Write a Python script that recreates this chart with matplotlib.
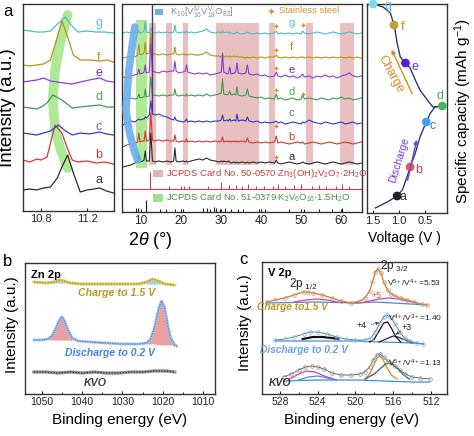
import numpy as np
import matplotlib
matplotlib.use('Agg')
import matplotlib.pyplot as plt
from matplotlib.patches import Rectangle

plt.rcParams['font.family'] = ['Liberation Sans', 'DejaVu Sans']
plt.rcParams['mathtext.fontset'] = 'custom'
plt.rcParams['mathtext.rm'] = 'Liberation Sans'
plt.rcParams['mathtext.it'] = 'Liberation Sans:italic'
plt.rcParams['mathtext.bf'] = 'Liberation Sans:bold'

# ---------------- DATA ----------------
states = ['a', 'b', 'c', 'd', 'e', 'f', 'g']
state_colors = ['#2b2b2b', '#d9362f', '#2a3fc4', '#3f9a55', '#8a3fd8', '#b9901a', '#4fbcc4']
label_colors = ['#333333', '#d9362f', '#3a6fd8', '#4aa860', '#6a2ae0', '#b9901a', '#5cc4cc']

# zoomed XRD (2theta 10.6-11.4)
zoom_x = {
    'a': [10.64, 10.70, 10.76, 10.82, 10.88, 10.94, 10.98, 11.03, 11.08, 11.14, 11.20, 11.26, 11.31, 11.37, 11.43],
    'b': [10.64, 10.70, 10.76, 10.80, 10.85, 10.92, 10.98, 11.03, 11.07, 11.12, 11.20, 11.28, 11.35, 11.43],
    'c': [10.64, 10.70, 10.76, 10.82, 10.88, 10.95, 11.00, 11.07, 11.14, 11.22, 11.31, 11.37, 11.43],
    'd': [10.64, 10.70, 10.76, 10.80, 10.85, 10.90, 10.98, 11.07, 11.14, 11.22, 11.31, 11.37, 11.43],
    'e': [10.64, 10.70, 10.76, 10.82, 10.88, 10.94, 11.00, 11.07, 11.14, 11.22, 11.31, 11.37, 11.43],
    'f': [10.64, 10.70, 10.76, 10.82, 10.88, 10.93, 10.98, 11.03, 11.08, 11.14, 11.22, 11.31, 11.37, 11.43],
    'g': [10.64, 10.70, 10.76, 10.82, 10.88, 10.95, 11.01, 11.06, 11.12, 11.20, 11.28, 11.35, 11.43],
}
zoom_y = {
    'a': [21, 22, 21, 23, 24, 33, 44, 56, 38, 19, 21, 22, 23, 20, 18],
    'b': [51, 49, 52, 51, 54, 86, 78, 62, 51, 49, 50, 48, 49, 47],
    'c': [78, 77, 76, 78, 80, 86, 81, 76, 78, 77, 79, 77, 76],
    'd': [104, 103, 102, 104, 108, 116, 111, 103, 104, 105, 106, 104, 104],
    'e': [129, 130, 131, 133, 130, 129, 128, 127, 129, 131, 133, 130, 129],
    'f': [146, 145, 146, 147, 151, 170, 190, 174, 156, 151, 151, 150, 151, 149],
    'g': [181, 180, 179, 179, 180, 188, 194, 186, 179, 180, 179, 179, 178],
}
zoom_guide_x = [11.03, 10.97, 10.92, 10.90, 10.92, 10.97, 11.03]
zoom_guide_y = [196, 171, 141, 111, 81, 61, 43]

# full XRD
xrd_2theta = [5.5, 6.5, 7.5, 8.5, 9.2, 9.5, 9.8, 10.5, 10.8, 11.1,
              11.4, 12.1, 12.5, 12.9, 13.5, 14.5, 15.5, 16.5, 17.5, 18.2,
              18.5, 18.8, 19.5, 20.5, 21.1, 21.4, 21.7, 22.5, 23.5, 24.5,
              25.5, 26.4, 27.3, 28.5, 29.5, 30.1, 30.4, 30.7, 31.5, 31.9,
              32.2, 32.5, 33.3, 33.7, 34.0, 34.3, 35.2, 36.2, 36.6, 37.0,
              38.0, 39.0, 40.0, 41.0, 42.0, 43.4, 43.8, 44.2, 45.0, 46.0,
              47.0, 48.0, 49.0, 50.0, 50.4, 50.8, 52.0, 53.0, 54.0, 55.0,
              56.0, 57.0, 58.0, 59.0, 60.0, 61.0, 62.0, 63.0, 64.0, 65.0]
xrd_offset = {'a': 49, 'b': 69, 'c': 89, 'd': 113, 'e': 135, 'f': 155, 'g': 179}
xrd_delta = {
    'g': [0, 1, 0, 1, 0, 2, 0, 1, 2, 11,
          1, 0, 5, 1, 0, 1, 0, 1, 0, 1,
          8, 1, 0, 1, 0, 2, 0, 1, 0, 1,
          2, 4, 1, 0, 1, 0, 2, 0, 1, 0,
          1, 0, -1, 0, 1, 0, -1, 0, 1, 0,
          -1, 0, -1, 0, -1, 0, 2, -1, 0, -1,
          0, -1, 0, -1, 2, 0, -1, 0, 1, 0,
          -1, 0, 1, 0, -1, 0, 1, 0, -1, 0],
    'f': [-1, 0, 1, 0, 2, 12, 2, 3, 4, 15,
          3, 4, 24, 4, 3, 2, 3, 2, 3, 3,
          10, 3, 2, 3, 2, 3, 2, 3, 2, 2,
          3, 5, 2, 1, 1, 0, 2, 0, 1, 0,
          1, 0, 1, 0, 1, 0, 0, -1, 0, -1,
          0, -1, 0, -1, 0, 0, 2, 0, -1, 0,
          -1, 0, -1, 0, 0, -1, 0, -1, 0, -1,
          0, -1, 0, -1, 0, -1, 0, -1, 0, -1],
    'e': [0, -1, 1, 2, 3, 8, 3, 4, 5, 12,
          4, 5, 34, 6, 5, 4, 6, 5, 6, 6,
          16, 6, 4, 5, 6, 12, 5, 4, 3, 4,
          3, 4, 2, 3, 4, 5, 24, 5, 3, 4,
          10, 3, 4, 5, 14, 4, 3, 4, 12, 3,
          2, 3, 1, 2, 0, 1, 5, 1, 0, 2,
          0, 1, -1, 1, 3, 0, 1, -1, 1, 0,
          2, 0, 1, -1, 1, 2, 4, 1, 0, 1],
    'd': [-1, 0, 1, 0, 1, 5, 1, 2, 2, 10,
          2, 3, 22, 3, 4, 3, 4, 3, 4, 4,
          10, 4, 3, 4, 3, 5, 3, 4, 3, 4,
          3, 5, 3, 4, 5, 6, 20, 5, 4, 5,
          8, 4, 5, 4, 12, 4, 3, 4, 10, 3,
          2, 1, 2, 0, 1, 0, 5, 0, 1, -1,
          0, 1, -1, 0, 4, 0, 1, 0, -1, 1,
          0, -1, 1, 0, 2, 0, 1, -1, 0, 1],
    'c': [-2, 0, 2, 1, 3, 4, 3, 4, 4, 6,
          5, 8, 22, 9, 8, 9, 7, 6, 4, 3,
          6, 3, 2, 1, 2, 4, 1, 2, 1, 2,
          1, 2, 1, 2, 2, 3, 8, 2, 3, 2,
          4, 2, 3, 2, 9, 2, 3, 2, 6, 2,
          1, 2, 0, 1, 0, 1, 2, 0, 1, -1,
          0, 1, 0, -1, 1, 0, 3, 1, 0, -1,
          1, 0, -1, 0, 1, -1, 0, 1, -1, 0],
    'b': [-4, -2, -1, 0, 1, 10, 1, 2, 2, 12,
          2, 3, 30, 3, 2, 3, 2, 3, 2, 2,
          8, 2, 1, 2, 1, 4, 1, 2, 1, 2,
          1, 2, 1, 2, 1, 2, 6, 1, 2, 1,
          2, 1, 2, 1, 2, 1, 2, 1, 5, 1,
          0, 1, 0, 1, 0, 1, 7, 0, 1, 0,
          -1, 0, 1, 0, 1, -1, 0, 1, 0, -1,
          0, 1, 0, -1, 0, 1, 0, -1, 0, 1],
    'a': [-4, -3, -2, 0, 1, 8, 1, 2, 3, 12,
          2, 2, 30, 2, 1, 2, 1, 2, 1, 2,
          15, 2, 1, 2, 1, 2, 1, 2, 3, 4,
          3, 5, 3, 2, 1, 2, 1, 2, 1, 2,
          1, 0, 1, 0, 1, 0, 1, 0, 1, 0,
          1, 0, 1, 0, 1, 0, 3, 0, -1, 0,
          1, 0, -1, 0, 1, 0, -1, 0, 1, 0,
          -1, 0, 1, 0, -1, 0, 1, 0, -1, 0],
}
steel_x = [43.8, 50.4, 43.8, 43.8, 43.8, 50.4, 43.8, 43.8]
steel_y = [186, 187, 162, 144, 122, 118, 86, 55]
zn_bands = [(12.1, 13.7), (16.4, 17.9), (20.5, 21.8), (28.7, 39.4), (42.1, 43.4), (51.2, 53.0), (59.7, 63.2)]
kvo_band = (8.9, 11.6)
blue_guide_x = [8.5, 7.0, 6.3, 7.0, 8.3, 9.2]
blue_guide_y = [185, 142, 102, 82, 62, 52]
zn_ref_pos = [12.4, 17.0, 20.1, 20.7, 22.0, 26.7, 30.1, 32.1, 33.8, 35.3, 36.7, 38.8,
              40.8, 43.1, 44.2, 46.1, 48.3, 50.0, 52.8, 54.5, 56.3, 58.8, 60.2, 62.0]
zn_ref_h = [17, 3, 3, 3, 3, 3, 7, 4, 4, 3, 5, 3, 3, 3, 5, 3, 4, 5, 3, 4, 3, 3, 5, 3]
kvo_ref_pos = [8.9, 9.3, 11.2, 14.7, 16.4, 18.5, 20.4, 25.5, 26.5, 27.2, 28.2, 28.8,
               29.7, 31.1, 32.6, 34.2, 35.6, 39.6, 41.1, 47.1, 50.8, 54.5, 57.8, 60.2]
kvo_ref_h = [4, 4, 12, 3, 3, 3, 3, 4, 4, 3, 5, 4, 3, 4, 3, 3, 3, 3, 3, 3, 3, 3, 3, 4]

# GCD curve
dis_V = [1.46, 1.23, 1.04, 0.94, 0.85, 0.79, 0.69, 0.60, 0.48, 0.40, 0.31, 0.17]
dis_cap = [5, 11, 17, 23, 36, 46, 60, 76, 91, 100, 106, 107]
chg_V = [0.17, 0.35, 0.46, 0.60, 0.69, 0.79, 0.88, 0.98, 1.04, 1.08, 1.10, 1.17, 1.31, 1.50]
chg_cap = [107, 106, 113, 123, 133, 145, 150, 156, 170, 183, 188, 200, 206, 209]
state_V = [1.04, 0.79, 0.48, 0.17, 0.88, 1.10, 1.50]
state_cap = [17, 46, 91, 107, 150, 188, 209]
state_colors_gcd = ['#222222', '#e05a50', '#4a9cf0', '#4cb060', '#5a18d8', '#c0a030', '#7fd8e6']

# Zn 2p XPS
zn_chg_x = [1052, 1049, 1047, 1045.5, 1044.5, 1043, 1040, 1035, 1030, 1026, 1024, 1022.5, 1021, 1019.5, 1017]
zn_chg_y = [112, 111, 112, 114, 113, 111, 110, 110, 110, 110, 112, 115, 113, 110, 109]
zn_chg_bg = [112, 111, 111, 111, 111, 111, 110, 110, 110, 110, 110, 110, 110, 110, 109]
zn_dis_x = [1052, 1050, 1048.5, 1047.5, 1046.5, 1045.5, 1045, 1044.5, 1043.5, 1042.5, 1041, 1038, 1034,
            1030, 1026, 1024, 1023, 1022, 1021, 1020.3, 1019.5, 1018.7, 1018, 1017, 1016.5]
zn_dis_y = [54, 54, 55, 58, 66, 75, 77, 74, 64, 56, 53, 52, 51, 50, 50, 51, 55, 67, 85, 93, 86, 68, 56, 49, 48]
zn_dis_bg = [54, 54, 54, 54, 54, 54, 54, 54, 54, 53, 53, 52, 51, 50, 50, 50, 50, 50, 49, 49, 49, 49, 49, 48, 48]
zn_kvo_x = [1052, 1049, 1046, 1043, 1040, 1037, 1034, 1031, 1028, 1025, 1022, 1019, 1017]
zn_kvo_y = [22, 22, 21, 22, 21, 22, 21, 21, 22, 22, 23, 23, 22]

# V 2p XPS
v_chg_x = [529.4, 528.5, 527.5, 526.5, 525.5, 525.0, 524.5, 523.5, 522.5, 521.5, 520.5, 519.5, 519.0, 518.5,
           518.2, 517.9, 517.6, 517.3, 517.0, 516.6, 516.2, 515.8, 515.2, 514.5, 513.8, 513.0, 512.4]
v_chg_y = [92, 94, 96, 99, 102, 102, 101, 99, 96, 93, 91, 93, 96, 103, 112, 122, 125, 121, 112, 104, 100, 98,
           96, 94, 92, 90, 89]
v_chg_bg_x = [529.4, 524, 520, 518, 516, 512.4]
v_chg_bg_y = [91, 92, 91, 92, 91, 89]
v_chg_v4_x = [526.5, 525.3, 524.0, 523.0, 522.0, 519.5, 518.5, 517.5, 516.5, 515.5, 514.5, 513.5]
v_chg_v4_y = [92, 94, 95, 94, 92, 91, 93, 95, 96, 95, 93, 91]

v_dis_x = [528.5, 527.5, 526.5, 525.5, 524.8, 524.0, 523.0, 522.0, 521.0, 520.0, 519.0, 518.4, 517.9, 517.4,
           517.0, 516.7, 516.3, 515.8, 515.3, 514.8, 514.2, 513.5, 512.8]
v_dis_y = [54, 55, 57, 60, 62, 62, 60, 57, 55, 54, 54, 56, 62, 71, 77, 79, 77, 70, 62, 56, 53, 51, 50]
v_dis_v4_x = [518.5, 518.0, 517.5, 517.0, 516.6, 516.2, 515.7, 515.2]
v_dis_v4_y = [52, 55, 63, 71, 72, 66, 57, 52]
v_dis_v3_x = [517.5, 517.0, 516.5, 516.0, 515.5, 515.0, 514.5, 514.0]
v_dis_v3_y = [52, 54, 56, 58, 57, 55, 53, 51]
v_dis_bg_x = [528.5, 524, 520, 517, 514, 512.8]
v_dis_bg_y = [53, 53, 53, 52, 51, 50]
v_dis_p12_x = [525.6, 524.5, 523.5, 522.5, 521.8]
v_dis_p12_y = [55, 57, 57, 56, 55]

v_kvo_x = [527.6, 526.8, 526.0, 525.3, 524.6, 524.0, 523.3, 522.5, 521.5, 520.5, 519.5, 519.0, 518.5, 518.1,
           517.7, 517.4, 517.0, 516.6, 516.2, 515.8, 515.3, 514.7, 514.0, 513.2, 512.1]
v_kvo_y = [17, 20, 24, 27, 28, 27, 25, 21, 19, 19, 20, 22, 27, 34, 39, 40, 37, 33, 31, 28, 24, 20, 17, 16, 15]
v_kvo_v5_x = [519.0, 518.5, 518.0, 517.7, 517.4, 517.1, 516.7, 516.2, 515.6]
v_kvo_v5_y = [15, 20, 30, 36, 38, 35, 27, 19, 15]
v_kvo_v4_x = [519.0, 518.0, 517.3, 516.8, 516.4, 516.0, 515.5, 515.0, 514.3]
v_kvo_v4_y = [15, 20, 26, 30, 31, 29, 25, 20, 15]
v_kvo_bg_x = [527.6, 524, 520, 517, 514, 512.1]
v_kvo_bg_y = [13, 14, 14, 13, 12, 12]
v_kvo_p12a_x = [527.0, 526.0, 525.2, 524.3, 523.3, 522.3]
v_kvo_p12a_y = [15, 20, 23, 22, 18, 15]
v_kvo_p12b_x = [526.0, 525.0, 524.0, 523.0, 522.0]
v_kvo_p12b_y = [14, 17, 18, 16, 14]

# ---------------- FIGURE ----------------
W, H = 474, 436
fig = plt.figure(figsize=(W / 100, H / 100), dpi=100)


def box(l, t, r, b):
    return [l / W, 1 - b / H, (r - l) / W, (b - t) / H]


axL = fig.add_axes(box(23, 4, 114, 211))
axM = fig.add_axes(box(122, 4, 362, 212))
axR = fig.add_axes(box(367, 4, 447, 213))
axB = fig.add_axes(box(25, 263, 215, 394))
axC = fig.add_axes(box(262, 262, 447, 394))
for ax in (axL, axM, axR, axB, axC):
    for s in ax.spines.values():
        s.set_linewidth(1.0)
        s.set_color('#333333')
    ax.tick_params(direction='in', length=2.5, width=0.8, pad=2, colors='#222222')
    ax.set_yticks([])

# ---- panel a left: zoom ----
axL.set_xlim(10.64, 11.435)
axL.set_ylim(0, 207)
axL.plot(zoom_guide_x, zoom_guide_y, color='#9be47c', lw=7, alpha=0.8, solid_capstyle='round', zorder=1)
for s, c in zip(states, state_colors):
    axL.plot(zoom_x[s], zoom_y[s], color=c, lw=0.9, zorder=2)
zl_y = [31, 56, 84, 114, 138, 153, 188]
for s, c, yy in zip(states, label_colors, zl_y):
    axL.text(11.30, yy, s, color=c, fontsize=9, ha='center', va='center')
axL.set_xticks([10.8, 11.2])
axL.set_xticklabels(['10.8', '11.2'], fontsize=8)

# ---- panel a middle: full XRD ----
axM.set_xlim(5.3, 65.2)
axM.set_ylim(0, 208)
for lo, hi in zn_bands:
    axM.axvspan(lo, hi, ymin=47 / 208, ymax=189 / 208, color='#e6b4b4', alpha=0.85, lw=0, zorder=0)
axM.axvspan(kvo_band[0], kvo_band[1], ymin=44 / 208, ymax=192 / 208, color='#9be47c', alpha=0.8, lw=0, zorder=1)
tt = np.array(xrd_2theta)
for s in ['g', 'f', 'e', 'd', 'c', 'b', 'a']:
    c = state_colors[states.index(s)]
    axM.plot(tt, xrd_offset[s] + np.array(xrd_delta[s]), color=c, lw=0.8, zorder=2)
axM.axvline(12.75, ymin=99 / 208, ymax=1, color='#3b3b8f', lw=1.0, zorder=2)
axM.plot(blue_guide_x, blue_guide_y, color='#6aaeee', lw=5.5, alpha=0.9, solid_capstyle='round', zorder=4)
axM.scatter(steel_x, steel_y, marker=(4, 1, 0), s=14, color='#e0902a', zorder=5, lw=0)
ml_y = [55, 75, 99, 120, 142, 165, 189]
for s, c, yy in zip(states, label_colors, ml_y):
    axM.text(47.6, yy, s, color=c, fontsize=8, ha='center', va='center')
axM.axhline(23, color='#d04040', lw=0.8)
axM.vlines(zn_ref_pos, 23, 23 + np.array(zn_ref_h), color='#d04040', lw=0.8)
axM.vlines(kvo_ref_pos, 0, kvo_ref_h, color='#222222', lw=0.8)
axM.add_patch(Rectangle((13.0, 35), 2.5, 7, color='#e8b0b0', lw=0))
axM.text(16.3, 38.5, 'JCPDS Card No. 50-0570 Zn$_3$(OH)$_2$V$_2$O$_7$·2H$_2$O', color='#c83c3c',
         fontsize=6.8, va='center')
axM.add_patch(Rectangle((13.0, 10), 2.5, 8, color='#a0e090', lw=0))
axM.text(16.3, 14.5, 'JCPDS Card No. 51-0379 K$_2$V$_6$O$_{16}$·1.5H$_2$O', color='#3a9a3a',
         fontsize=6.8, va='center')
axM.add_patch(Rectangle((13.5, 197), 2.0, 6, color='#6aaeea', lw=0, zorder=5))
axM.text(17.2, 200, r'K$_{10}$[V$^{\mathrm{IV}}_{16}$V$^{\mathrm{V}}_{18}$O$_{82}$]', color='#7d8fb0',
         fontsize=6.8, va='center', zorder=5)
axM.scatter([42.5], [201], marker=(4, 1, 0), s=22, color='#e0902a', lw=0, zorder=5)
axM.text(44.6, 201, 'Stainless steel', color='#d8923a', fontsize=6.7, va='center', zorder=5)
axM.set_xticks([10, 20, 30, 40, 50, 60])
axM.set_xticklabels(['10', '20', '30', '40', '50', '60'], fontsize=8.5)

# ---- panel a right: GCD ----
axR.set_xlim(1.62, 0.08)
axR.set_ylim(0, 209)
axR.plot(dis_V, dis_cap, color='#2d3b6e', lw=1.0, zorder=2)
axR.plot(chg_V, chg_cap, color='#2d3b6e', lw=1.0, zorder=2)
axR.scatter(state_V, state_cap, s=28, c=state_colors_gcd, zorder=3, clip_on=False)
rl_pos = [(0.92, 16), (0.62, 43), (0.35, 87), (0.21, 117), (0.69, 146), (0.94, 186), (1.21, 207)]
for s, c, (vx, vy) in zip(states, label_colors, rl_pos):
    axR.text(vx, vy, s, color=c, fontsize=9, ha='center', va='center')
axR.annotate('', xy=(1.17, 166), xytext=(0.73, 117),
             arrowprops=dict(arrowstyle='-|>', color='#d88a20', lw=1.0, mutation_scale=6))
axR.text(1.16, 139, 'Charge', color='#d88a20', fontsize=9, rotation=-61, ha='center', va='center')
axR.annotate('', xy=(0.65, 76), xytext=(0.85, 30),
             arrowprops=dict(arrowstyle='-|>', color='#7a3ae0', lw=1.0, mutation_scale=6))
axR.text(1.0, 53, 'Discharge', color='#7a3ae0', fontsize=7.5, rotation=73, ha='center', va='center')
axR.set_xticks([1.5, 1.0, 0.5])
axR.set_xticklabels(['1.5', '1.0', '0.5'], fontsize=8)

# ---- panel b: Zn 2p ----
axB.set_xlim(1054.2, 1007)
axB.set_ylim(0, 131)
zcx = np.array(zn_chg_x)
axB.fill_between(zcx, zn_chg_bg, zn_chg_y, color='#8fd0ea', alpha=0.9, lw=0)
axB.plot(zn_chg_x, zn_chg_y, color='#e2cc68', lw=2.2)
axB.plot(zn_chg_x, zn_chg_y, color='#a89020', lw=1.0, ls=(0, (1, 1)))
zdx = np.array(zn_dis_x)
axB.fill_between(zdx, zn_dis_bg, zn_dis_y, where=(zdx >= 1041.5) & (zdx <= 1049), color='#e9a0a0', lw=0)
axB.fill_between(zdx, zn_dis_bg, zn_dis_y, where=(zdx >= 1016.5) & (zdx <= 1024.5), color='#e9a0a0', lw=0)
axB.plot(zn_dis_x, zn_dis_y, color='#9cc4ee', lw=2.0)
axB.plot(zn_dis_x, zn_dis_y, color='#5a7ecc', lw=0.9, ls=(0, (1, 1)))
axB.plot(zn_kvo_x, zn_kvo_y, color='#9a9a9a', lw=2.4)
axB.plot(zn_kvo_x, zn_kvo_y, color='#333333', lw=1.0, ls=(0, (1, 1)))
axB.text(0.03, 0.91, 'Zn 2p', transform=axB.transAxes, fontsize=8, fontweight='bold', va='center')
axB.text(1031.4, 101, 'Charge to 1.5 V', color='#b89a28', fontsize=7.7, fontweight='bold',
         style='italic', ha='center', va='center')
axB.text(1033.1, 41, 'Discharge to 0.2 V', color='#4a80e0', fontsize=7.5, fontweight='bold',
         style='italic', ha='center', va='center')
axB.text(1036.8, 11, 'KVO', color='#404040', fontsize=7.7, fontweight='bold',
         style='italic', ha='center', va='center')
axB.set_xticks([1050, 1040, 1030, 1020, 1010])
axB.set_xticklabels(['1050', '1040', '1030', '1020', '1010'], fontsize=7.5)
axB.set_xticks([1045, 1035, 1025, 1015], minor=True)
axB.tick_params(which='minor', direction='in', length=1.5, width=0.6)

# ---- panel c: V 2p ----
axC.set_xlim(529.9, 510.3)
axC.set_ylim(0, 132)
# charge
axC.plot(v_chg_bg_x, v_chg_bg_y, color='#4a8ad8', lw=0.9)
axC.plot(v_chg_v4_x, v_chg_v4_y, color='#d040b0', lw=0.9)
axC.plot(v_chg_x, v_chg_y, color='#c87a30', lw=0.9)
axC.plot(v_chg_x, v_chg_y, ls='none', marker='o', mfc='none', mec='#c8a080', ms=2.6, mew=0.6)
# discharge
axC.plot(v_dis_bg_x, v_dis_bg_y, color='#4a8ad8', lw=0.9)
axC.plot(v_dis_p12_x, v_dis_p12_y, color='#111111', lw=1.6)
axC.plot(v_dis_v3_x, v_dis_v3_y, color='#1a2a5a', lw=0.9)
axC.plot(v_dis_v4_x, v_dis_v4_y, color='#111111', lw=0.9)
axC.plot(v_dis_x, v_dis_y, color='#3a7a60', lw=0.6)
axC.plot(v_dis_x, v_dis_y, ls='none', marker='o', mfc='none', mec='#8ab8f0', ms=2.6, mew=0.6)
# KVO
axC.plot(v_kvo_bg_x, v_kvo_bg_y, color='#4a8ad8', lw=0.9)
axC.plot(v_kvo_p12a_x, v_kvo_p12a_y, color='#d040b0', lw=0.9)
axC.plot(v_kvo_p12b_x, v_kvo_p12b_y, color='#4a8ad8', lw=0.9)
axC.plot(v_kvo_v5_x, v_kvo_v5_y, color='#e89030', lw=1.0)
axC.plot(v_kvo_v4_x, v_kvo_v4_y, color='#3a7a60', lw=1.0)
axC.plot(v_kvo_x, v_kvo_y, color='#555555', lw=0.6)
axC.plot(v_kvo_x, v_kvo_y, ls='none', marker='o', mfc='none', mec='#999999', ms=2.6, mew=0.6)
# texts
axC.text(0.03, 0.915, 'V 2p', transform=axC.transAxes, fontsize=8, fontweight='bold', va='center')
axC.text(525.5, 110, r'2p$_{\ 1/2}$', fontsize=8.5, ha='center', va='center', color='#222222')
axC.text(515.9, 128, r'2p$_{\ 3/2}$', fontsize=8.5, ha='center', va='center', color='#222222')
axC.text(513.8, 111, r'V$^{5+}$/V$^{4+}$=5.53', fontsize=6, ha='center', va='center', color='#222222')
axC.text(517.7, 99, '+5', fontsize=6.5, ha='center', va='center', color='#c06020')
axC.text(526.7, 87, 'Charge to1.5 V', color='#b89a28', fontsize=7.3, fontweight='bold',
         style='italic', ha='center', va='center')
axC.text(513.7, 76, r'V$^{4+}$/V$^{3+}$=1.40', fontsize=6, ha='center', va='center', color='#222222')
axC.text(519.3, 69, '+4', fontsize=6.5, ha='center', va='center', color='#222222')
axC.annotate('', xy=(517.2, 72), xytext=(518.6, 69),
             arrowprops=dict(arrowstyle='-|>', color='#333333', lw=0.6, ls=':', mutation_scale=4))
axC.text(514.6, 67, '+3', fontsize=6.5, ha='center', va='center', color='#222222')
axC.annotate('', xy=(516.0, 58), xytext=(515.0, 64),
             arrowprops=dict(arrowstyle='-|>', color='#333333', lw=0.6, ls=':', mutation_scale=4))
axC.text(525.5, 44, 'Discharge to 0.2 V', color='#6aa0f0', fontsize=7.3, fontweight='bold',
         style='italic', ha='center', va='center', clip_on=False)
axC.text(513.7, 31, r'V$^{5+}$/V$^{4+}$=1.13', fontsize=6, ha='center', va='center', color='#222222')
axC.text(529.2, 11, 'KVO', color='#333333', fontsize=7.5, fontweight='bold',
         style='italic', ha='left', va='center')
axC.set_xticks([528, 524, 520, 516, 512])
axC.set_xticklabels(['528', '524', '520', '516', '512'], fontsize=7.5)
axC.set_xticks([526, 522, 518, 514], minor=True)
axC.tick_params(which='minor', direction='in', length=1.5, width=0.6)

# ---- labels ----
fig.text(8 / W, 1 - 12 / H, 'a', fontsize=12, ha='center', va='center')
fig.text(8 / W, 1 - 261 / H, 'b', fontsize=12, ha='center', va='center')
fig.text(243 / W, 1 - 259 / H, 'c', fontsize=12, ha='center', va='center')
fig.text(8 / W, 1 - 108 / H, 'Intensity (a.u.)', fontsize=13.5, rotation=90, ha='center', va='center')
fig.text(150 / W, 1 - 240 / H, r'2$\theta$ (°)', fontsize=13, ha='center', va='center')
fig.text(404 / W, 1 - 238 / H, 'Voltage (V )', fontsize=10, ha='center', va='center')
fig.text(463 / W, 1 - 111 / H, r'Specific capacity (mAh g$^{-1}$)', fontsize=11, rotation=90,
         ha='center', va='center')
fig.text(12 / W, 1 - 325 / H, 'Intensity (a.u.)', fontsize=11, rotation=90, ha='center', va='center')
fig.text(245 / W, 1 - 323 / H, 'Intensity (a.u.)', fontsize=11, rotation=90, ha='center', va='center')
fig.text(120 / W, 1 - 420 / H, 'Binding energy (eV)', fontsize=11, ha='center', va='center')
fig.text(352 / W, 1 - 420 / H, 'Binding energy (eV)', fontsize=11, ha='center', va='center')

fig.savefig('out.png', dpi=100)
